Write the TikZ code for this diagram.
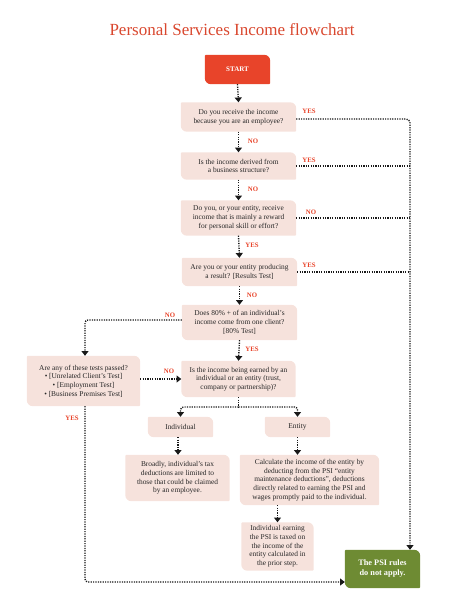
\documentclass[tikz,border=0pt]{standalone}
\usepackage{fontspec}
\setmainfont{Liberation Serif}
\usetikzlibrary{arrows.meta,backgrounds,calc}
\definecolor{pinkbox}{HTML}{F6E2DC}
\definecolor{redc}{HTML}{E8442A}
\definecolor{titlec}{HTML}{D9472E}
\definecolor{greenc}{HTML}{6E8B33}
\begin{document}
\begin{tikzpicture}[x=1pt,y=-1pt,
  box/.style={inner sep=1pt,align=center,font=\fontsize{7.4}{8.7}\selectfont,text=black!85},
  lbl/.style={font=\fontsize{6.8}{7}\selectfont\bfseries,text=redc,inner sep=0pt},
  conn/.style={line width=1.35pt,dash pattern=on 1.2pt off 1.2pt,black!90},
  arr/.style={conn,-{Triangle[width=7pt,length=4.8pt]}},
]
\useasboundingbox (0,0) rectangle (474,599);
\node[font=\fontsize{17}{19}\selectfont,text=titlec] (title) at (232,30) {Personal Services Income flowchart};

\node[box,minimum width=65pt,minimum height=29pt,text=white,font=\fontsize{7}{8}\selectfont\bfseries] (start) at (237.5,69.5) {START};
\node[box,minimum width=115pt,minimum height=29pt] (q1) at (238.5,117) {Do you receive the income\\because you are an employee?};
\node[box,minimum width=115pt,minimum height=27pt] (q2) at (238.5,166) {Is the income derived from\\a business structure?};
\node[box,minimum width=115pt,minimum height=35pt] (q3) at (238.5,218) {Do you, or your entity, receive\\income that is mainly a reward\\for personal skill or effort?};
\node[box,minimum width=115pt,minimum height=28pt] (q4) at (239.5,272) {Are you or your entity producing\\a result? [Results Test]};
\node[box,minimum width=115pt,minimum height=35pt] (q5) at (239.5,322.5) {Does 80\% + of an individual's\\income come from one client?\\{}[80\% Test]};
\node[box,minimum width=114pt,minimum height=36pt] (q6) at (238.5,379) {Is the income being earned by an\\individual or an entity (trust,\\company or partnership)?};
\node[box,minimum width=113pt,minimum height=50pt] (q7) at (83.5,381) {Are any of these tests passed?\\• [Unrelated Client's Test]\\• [Employment Test]\\• [Business Premises Test]};
\node[box,minimum width=65pt,minimum height=20pt] (ind) at (180.5,427) {Individual};
\node[box,minimum width=65pt,minimum height=20pt] (ent) at (297.5,427) {Entity};
\node[box,minimum width=104pt,minimum height=46pt] (brd) at (177.5,478) {Broadly, individual's tax\\deductions are limited to\\those that could be claimed\\by an employee.};
\node[box,minimum width=139pt,minimum height=50pt] (calc) at (309.5,480) {Calculate the income of the entity by\\deducting from the PSI ``entity\\maintenance deductions'', deductions\\directly related to earning the PSI and\\wages promptly paid to the individual.};
\node[box,minimum width=72pt,minimum height=48pt] (iep) at (277.5,546.5) {Individual earning\\the PSI is taxed on\\the income of the\\entity calculated in\\the prior step.};
\node[box,minimum width=75pt,minimum height=38pt,text=white,font=\fontsize{8.3}{10}\selectfont\bfseries] (psi) at (382.5,569) {The PSI rules\\do not apply.};

\begin{scope}[on background layer]
\foreach \n/\c in {start/redc,q1/pinkbox,q2/pinkbox,q3/pinkbox,q4/pinkbox,q5/pinkbox,q6/pinkbox,q7/pinkbox,ind/pinkbox,ent/pinkbox,brd/pinkbox,calc/pinkbox,iep/pinkbox,psi/greenc}{
  \fill[\c] ([xshift=6pt]\n.south west) -- ([xshift=-1pt]\n.south east) -- ([yshift=1pt]\n.south east) -- ([yshift=-6pt]\n.north east) arc[start angle=0,end angle=90,radius=6pt] -- ([xshift=1pt]\n.north west) -- ([yshift=-1pt]\n.north west) -- ([yshift=6pt]\n.south west) arc[start angle=180,end angle=270,radius=6pt] -- cycle;
}
\end{scope}

% main spine
\draw[arr] (start.south) -- (q1.north);
\draw[arr] (q1.south) -- (q2.north);
\draw[arr] (q2.south) -- (q3.north);
\draw[arr] (q3.south) -- (q4.north);
\draw[arr] (q4.south) -- (q5.north);
\draw[arr] (q5.south) -- (q6.north);
\node[lbl] (l1) at (253,141) {NO};
\node[lbl] (l2) at (253,189) {NO};
\node[lbl] (l3) at (252,245) {YES};
\node[lbl] (l4) at (252,295) {NO};
\node[lbl] (l5) at (252,349) {YES};

% right side to PSI rules
\coordinate (rtop) at (410,119);
\draw[arr,rounded corners=4pt] (q1.east |- rtop) -- (rtop) -- (psi.north -| rtop);
\draw[conn] (q2.east) -- (q2.east -| rtop);
\draw[conn] (q3.east) -- (q3.east -| rtop);
\draw[conn] (q4.east) -- (q4.east -| rtop);
\node[lbl] (y1) at (309,111) {YES};
\node[lbl] (y2) at (309,160) {YES};
\node[lbl] (y3) at (311,212) {NO};
\node[lbl] (y4) at (309,265) {YES};

% left branch
\coordinate (lc) at (85,320);
\draw[arr,rounded corners=3pt] (q5.west |- lc) -- (lc) -- (q7.north -| lc);
\node[lbl] (n5) at (170,315) {NO};
\draw[arr] (q7.east |- q6.west) -- (q6.west);
\node[lbl] (n7) at (169,371) {NO};
\coordinate (lb) at (85,582);
\draw[arr,rounded corners=3pt] (q7.south -| lb) -- (lb) -- (psi.west |- lb);
\node[lbl] (y7) at (72,418) {YES};

% split
\coordinate (sp) at (238.5,407);
\draw[conn] (q6.south) -- (sp);
\draw[arr,rounded corners=3pt] (sp) -- (sp -| ind.north) -- (ind.north);
\draw[arr,rounded corners=3pt] (sp) -- (sp -| ent.north) -- (ent.north);
\draw[arr] (ind.south -| 178,0) -- (brd.north -| 178,0);
\draw[arr] (ent.south) -- (ent.south |- calc.north);
\draw[arr] (calc.south -| iep.north) -- (iep.north);
\end{tikzpicture}
\end{document}
